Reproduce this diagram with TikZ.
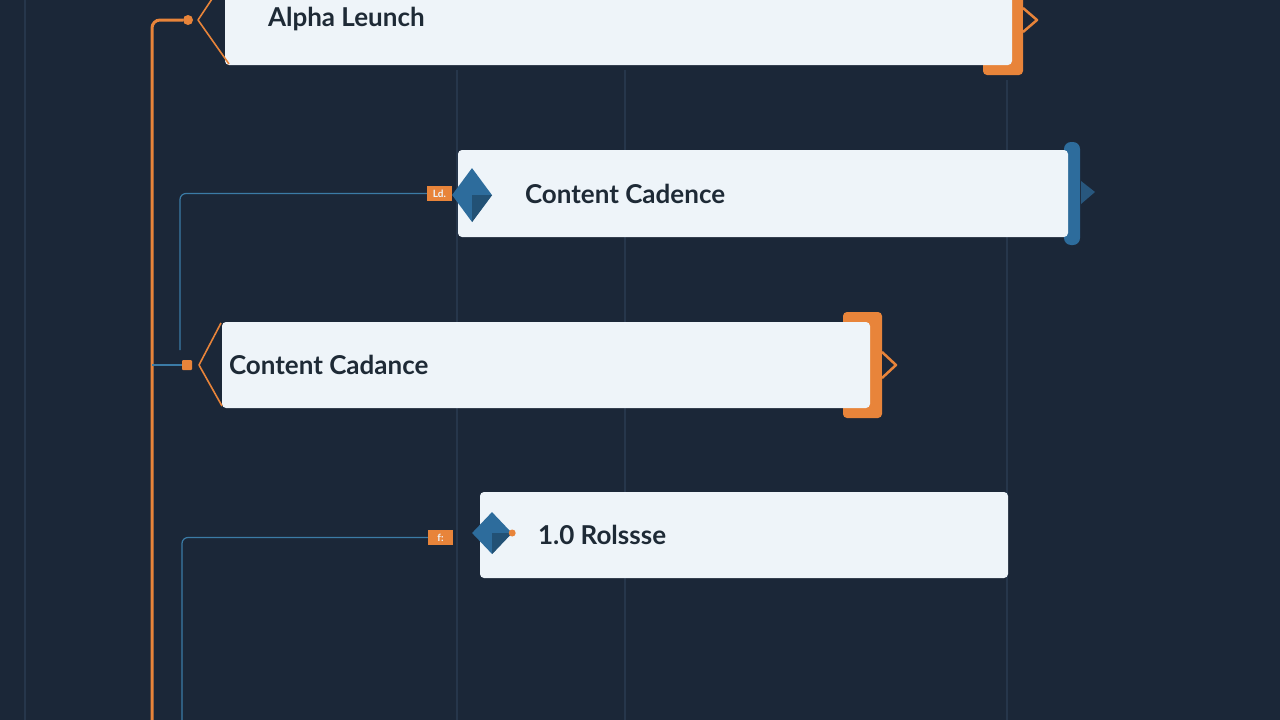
\documentclass[tikz,border=0pt]{standalone}
\usepackage{fontspec}
\setmainfont{Lato}
\usetikzlibrary{positioning,shapes.geometric}
\definecolor{bgnavy}{HTML}{1B2738}
\definecolor{gridline}{HTML}{26364B}
\definecolor{barwhite}{HTML}{EEF4F9}
\definecolor{accorange}{HTML}{E8843A}
\definecolor{accblue}{HTML}{2D6C9C}
\definecolor{lineblue}{HTML}{3B7BA6}
\definecolor{inktext}{HTML}{1E2A36}
\begin{document}
\begin{tikzpicture}[x=1pt,y=-1pt,
	bar/.style={fill=barwhite,rounded corners=4pt,inner sep=0,draw=none},
	bartext/.style={text=inktext,font=\fontsize{26}{31}\selectfont\bfseries,inner sep=0},
	gem/.style={diamond,fill=accblue,inner sep=0,minimum width=40pt},
	tag/.style={fill=accorange,text=barwhite,font=\fontsize{10}{11}\selectfont\bfseries,
		minimum width=25pt,minimum height=15pt,inner sep=1pt},
	trunk/.style={accorange,line width=3pt,rounded corners=8pt},
	branch/.style={lineblue,line width=1.2pt,rounded corners=6pt},
	chevron/.style={accorange,line width=1.6pt,line join=round},
	tipmark/.style={accorange,line width=2.5pt,fill=bgnavy,line join=round}]
\fill[bgnavy] (0,0) rectangle (1280,720);
\clip (0,0) rectangle (1280,720);
\useasboundingbox (0,0) rectangle (1280,720);
% faint grid
\foreach \gx/\gy in {25/0,457/70,625/70,1007/80}
	\draw[gridline,line width=1.2pt] (\gx,\gy) -- (\gx,720);
% brackets behind the bars
\fill[accorange,rounded corners=4pt] (983,-10) rectangle (1023,75);
\draw[tipmark] (1023,8) -- (1037,20) -- (1023,32);
\fill[accorange,rounded corners=4pt] (843,312) rectangle (882,418);
\draw[tipmark] (882,352) -- (896,365) -- (882,378);
\fill[accblue,rounded corners=7pt] (1064,142) rectangle (1080,245);
\fill[accblue!70!bgnavy] (1081,181) -- (1095,192) -- (1081,204) -- cycle;
% bars
\node[bar,minimum width=787pt,minimum height=92pt] (alpha) at (618.5,19) {};
\node[bar,minimum width=610pt,minimum height=87pt] (cadence) at (763,193.5) {};
\node[bar,minimum width=648pt,minimum height=86pt] (cadance) at (546,365) {};
\node[bar,minimum width=528pt,minimum height=86pt] (release) at (744,535) {};
\node[bartext,right=43pt of alpha.west] (alphatxt) {Alpha Leunch};
\node[bartext,right=67pt of cadence.west] (cadencetxt) {Content Cadence};
\node[bartext,right=7pt of cadance.west] (cadancetxt) {Content Cadance};
\node[bartext,right=58pt of release.west] (releasetxt) {1.0 Rolssse};
% left markers
\draw[chevron] (214,-4) -- (198,20) -- (229,64);
\draw[chevron] (221,323) -- (199,365) -- (222,406);
\node[circle,fill=accorange,minimum size=10pt,inner sep=0] (alphadot) at (188,20) {};
\node[fill=accorange,minimum size=10pt,inner sep=0,rounded corners=1pt] (cadsq) at (187,365) {};
\node[gem,minimum height=54pt] (gemone) at (472,195) {};
\node[gem,minimum height=42pt] (gemtwo) at (492,533) {};
\fill[accblue!75!black] (gemone.east) -- (gemone.south) -- (gemone.center) -- cycle;
\fill[accblue!75!black] (gemtwo.east) -- (gemtwo.south) -- (gemtwo.center) -- cycle;
\node[circle,fill=accorange,minimum size=7pt,inner sep=0] (gemdot) at (gemtwo.east) {};
\node[tag] (tagone) at (439.5,193.5) {Ld.};
\node[tag] (tagtwo) at (440.5,537.5) {f:};
% connectors
\coordinate (trunkend) at (152,730);
\coordinate (cadjoin) at (152,365);
\coordinate (spurone) at (180,350);
\coordinate (spurtwo) at (182,730);
\draw[trunk] (alphadot) -| (trunkend);
\draw[branch] (cadjoin) -- (cadsq);
\draw[branch] (spurone) |- (tagone);
\draw[branch] (spurtwo) |- (tagtwo);
\end{tikzpicture}
\end{document}
